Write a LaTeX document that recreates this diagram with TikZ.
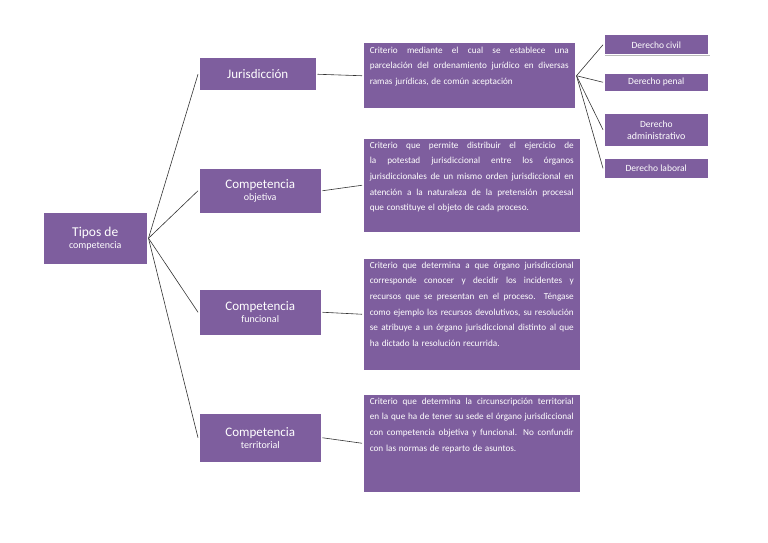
\documentclass[tikz,border=0pt]{standalone}
\usepackage{fontspec}
\setmainfont{Carlito}
\usetikzlibrary{shadows}
\definecolor{pur}{HTML}{7E5E9E}
\begin{document}
\begin{tikzpicture}[x=1pt,y=-1pt,
  bx/.style={fill=pur,draw=white,line width=1.5pt,text=white,inner sep=0pt,
    drop shadow={shadow xshift=1.5pt,shadow yshift=-1.5pt,fill=black!45,opacity=.6}},
  ln/.style={draw=black!80,line width=0.6pt}]
\useasboundingbox (0,0) rectangle (768,543);
\newcommand\bxat[6]{\node[bx,minimum width=#3-#1,minimum height=#4-#2,anchor=north west,align=center] (#5) at (#1,#2) {#6};}
\newcommand\dsc[6]{\node[bx,minimum width=#3-#1,minimum height=#4-#2,anchor=north west] (#5) at (#1,#2) {\parbox[t][\dimexpr #4pt-#2pt-8pt\relax][t]{\dimexpr #3pt-#1pt-14pt\relax}{\fontsize{9.2}{15.7}\selectfont\spaceskip=0.3em plus 2em minus .05em #6}};}
\bxat{42}{211}{147}{264}{t}{\fontsize{13.5}{19}\selectfont Tipos de\\competencia}
\bxat{198}{57}{316}{90}{j}{\fontsize{13}{17}\selectfont Jurisdicción}
\bxat{198}{167}{321}{213}{o}{\fontsize{13}{19}\selectfont Competencia\\objetiva}
\bxat{198}{288}{321}{335}{f}{\fontsize{13}{19}\selectfont Competencia\\funcional}
\bxat{198}{412}{321}{462}{r}{\fontsize{13}{19}\selectfont Competencia\\territorial}
\dsc{362}{42}{575}{108}{d1}{Criterio mediante el cual se establece una parcelación del ordenamiento jurídico en diversas ramas jurídicas, de común aceptación}
\dsc{362}{137}{580}{232}{d2}{Criterio que permite distribuir el ejercicio de la potestad jurisdiccional entre los órganos jurisdiccionales de un mismo orden jurisdiccional en atención a la naturaleza de la pretensión procesal que constituye el objeto de cada proceso.}
\dsc{362}{257}{580}{370}{d3}{Criterio que determina a que órgano jurisdiccional corresponde conocer y decidir los incidentes y recursos que se presentan en el proceso. Téngase como ejemplo los recursos devolutivos, su resolución se atribuye a un órgano jurisdiccional distinto al que ha dictado la resolución recurrida.}
\dsc{362}{393}{580}{492}{d4}{Criterio que determina la circunscripción territorial en la que ha de tener su sede el órgano jurisdiccional con competencia objetiva y funcional. No confundir con las normas de reparto de asuntos.}
\bxat{603}{34}{708}{54}{c1}{\fontsize{9.5}{12}\selectfont Derecho civil}
\bxat{603}{72}{708}{91}{c2}{\fontsize{9.5}{12}\selectfont Derecho penal}
\bxat{603}{112}{708}{146}{c3}{\fontsize{9.5}{16}\selectfont Derecho\\administrativo}
\bxat{603}{157}{708}{178}{c4}{\fontsize{9.5}{12}\selectfont Derecho laboral}
\foreach \a in {j,o,f,r} \draw[ln] (t.east) -- (\a.west);
\draw[ln] (j.east) -- (d1.west);
\draw[ln] (o.east) -- (d2.west);
\draw[ln] (f.east) -- (d3.west);
\draw[ln] (r.east) -- (d4.west);
\foreach \a in {c1,c2,c3,c4} \draw[ln] (d1.east) -- (\a.west);
\end{tikzpicture}
\end{document}
